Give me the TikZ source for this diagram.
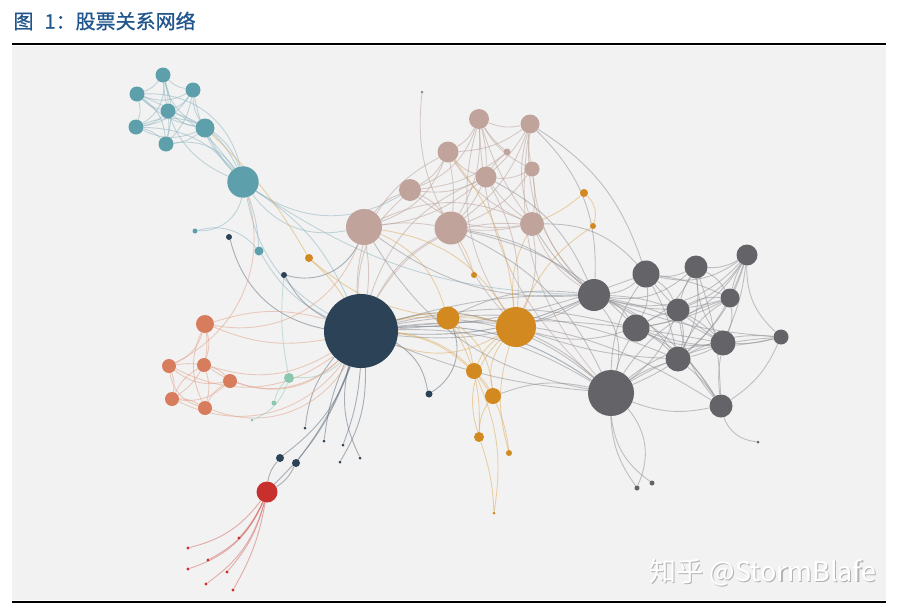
\documentclass[tikz,border=0pt]{standalone}
\usepackage{fontspec}
\newfontfamily\cjk{Noto Sans CJK SC}
\newfontfamily\cjkt[FakeBold=0.8]{Noto Sans CJK SC}
\usetikzlibrary{backgrounds}
\definecolor{nwBg}{RGB}{242,242,242}
\definecolor{nwTitle}{RGB}{32,86,140}
\definecolor{nwTeal}{RGB}{93,160,172}
\definecolor{nwDark}{RGB}{44,66,86}
\definecolor{nwMauve}{RGB}{192,163,154}
\definecolor{nwOrange}{RGB}{210,138,32}
\definecolor{nwSalmon}{RGB}{216,124,94}
\definecolor{nwMint}{RGB}{140,198,175}
\definecolor{nwRed}{RGB}{200,48,46}
\definecolor{nwGray}{RGB}{100,100,104}
\definecolor{nwTealE}{RGB}{140,180,192}
\definecolor{nwDarkE}{RGB}{90,105,122}
\definecolor{nwMauveE}{RGB}{185,160,152}
\definecolor{nwOrangeE}{RGB}{222,172,90}
\definecolor{nwSalmonE}{RGB}{226,160,136}
\definecolor{nwMintE}{RGB}{150,200,185}
\definecolor{nwRedE}{RGB}{208,100,96}
\definecolor{nwGrayE}{RGB}{140,140,146}

\begin{document}
\begin{tikzpicture}[x=1pt, y=-1pt,
  dot/.style={circle, inner sep=0pt, minimum size=2*#1},
  link/.style={line width=0.9pt, draw=#1, draw opacity=0.5}]
  \useasboundingbox (0,0) rectangle (898,611);
  \begin{scope}[on background layer]
    \fill[nwBg] (12,46) rectangle (886,600);
  \end{scope}

  % title and rules
  \node[anchor=west, font=\cjkt\fontsize{20}{20}\selectfont, text=nwTitle] (title) at (10,21) {图\hspace{0.55em}1：股票关系网络};
  \draw[line width=2.5pt] (12,44) -- (886,44);
  \draw[line width=2.5pt] (12,602) -- (886,602);

  % nodes: name/x/y/radius
  \foreach \n/\x/\y/\rad in {t1/163/75/7.5, t2/137/94/7.5, t3/193/90/7.5, t4/168/111/7.5, t5/136/127/7.5, t6/205/128/9.5, t7/166/144/7.5, t8/243/182/15.7, t9/195/231/2.5, t10/259/251/4.5}
    \node[dot=\rad, fill=nwTeal] (\n) at (\x,\y) {};
  \foreach \n/\x/\y/\rad in {h/361/331/37, d1/229/237/3, d2/284/275/3, d3/429/394/3.5, d4/280/458/4, d5/296/463/4, l1/305/428/1.5, l2/324/441/1.5, l3/343/445/1.5, l4/340/462/1.5, l5/360/458/1.5}
    \node[dot=\rad, fill=nwDark] (\n) at (\x,\y) {};
  \foreach \n/\x/\y/\rad in {m1/479/119/10, m2/530/124/9.5, m3/448/152/10.5, m4/507/152/3.5, m5/486/177/10.5, m6/532/169/7.5, m7/410/190/11, m8/451/228/16.5, m9/532/224/12, m10/364/227/18}
    \node[dot=\rad, fill=nwMauve] (\n) at (\x,\y) {};
  \node[dot=1.5, fill=nwGrayE] (q1) at (422,92) {};
  \foreach \n/\x/\y/\rad in {o1/584/193/4, o2/593/226/3, o3/474/275/3, o4/448/318/11.5, o5/516/327/20, o6/474/371/8, o7/493/396/8, o8/479/437/5, o9/509/453/3, o10/494/513/1.5, o11/309/258/4}
    \node[dot=\rad, fill=nwOrange] (\n) at (\x,\y) {};
  \foreach \n/\x/\y/\rad in {s1/205/324/9, s2/169/366/7, s3/204/365/7, s4/230/381/7, s5/172/399/7, s6/205/408/7}
    \node[dot=\rad, fill=nwSalmon] (\n) at (\x,\y) {};
  \foreach \n/\x/\y/\rad in {n1/289/378/5, n2/274/403/2.5, n3/252/420/1.5}
    \node[dot=\rad, fill=nwMint] (\n) at (\x,\y) {};
  \node[dot=10.5, fill=nwRed] (rd) at (267,492) {};
  \foreach \n/\x/\y in {e1/188/548, e2/239/538, e3/208/560, e4/188/569, e5/227/572, e6/206/584, e7/233/590}
    \node[dot=1.7, fill=nwRed] (\n) at (\x,\y) {};
  \foreach \n/\x/\y/\rad in {g1/594/295/16, g2/646/274/13.5, g3/696/267/11.5, g4/747/255/10.5, g5/730/298/9.5, g6/678/310/11.5, g7/636/328/13.5, g8/781/337/7.5, g9/723/343/12.5, g10/678/359/12.5, g11/611/393/23, g12/721/406/11.5, g13/758/442/1.5, g14/637/488/2.5, g15/652/483/2.5}
    \node[dot=\rad, fill=nwGray] (\n) at (\x,\y) {};

  % links, bend scaled by 1.6
  \begin{scope}[on background layer]
    \foreach \a/\b/\s in {t1/t2/10, t1/t3/-10, t1/t4/5, t1/t6/-15, t1/t7/10, t1/t5/20, t2/t4/-10, t2/t5/10, t2/t3/-15, t2/t6/-10, t2/t7/15, t3/t4/10, t3/t6/-10, t3/t5/15, t3/t7/10, t4/t5/10, t4/t6/-10, t4/t7/5, t5/t7/10, t5/t6/-15, t6/t7/10, t1/t8/-20, t2/t8/25, t3/t8/-10, t4/t8/15, t5/t8/30, t6/t8/-5, t7/t8/20, t2/t8/10, t5/t8/15, t8/h/-15, t8/h/10, t8/m10/-20, t8/t9/25, t8/t10/5, t8/m7/-20, t9/t10/20, t8/g1/-10, t10/h/-10}
      {\pgfmathsetmacro\bb{1.6*\s}
       \draw[link=nwTealE] (\a) to[bend left=\bb] (\b);}
    \foreach \a/\b/\s in {d1/h/-20, d2/h/-10, d2/m10/-25, h/l1/-10, h/l2/-5, h/l3/5, h/l4/10, h/l5/-12, h/d4/10, h/d5/5, h/rd/8, d4/rd/-10, d5/rd/10, h/d3/15, d3/o4/-25, h/g11/12, h/g1/-8, h/o5/10}
      {\pgfmathsetmacro\bb{1.6*\s}
       \draw[link=nwDarkE] (\a) to[bend left=\bb] (\b);}
    \foreach \a/\b/\s in {s1/s2/15, s1/s3/10, s1/s5/20, s1/s6/-15, s2/s3/5, s2/s5/10, s2/s6/-20, s3/s4/10, s3/s5/-10, s3/s6/10, s4/s6/-10, s5/s6/10, s2/s4/-15, s4/s5/15, s1/h/-10, s2/h/-20, s3/h/-15, s4/h/-20, s5/h/-25, s6/h/-25, s1/h/10, s3/h/-25, s2/t8/-25, s1/m10/-25}
      {\pgfmathsetmacro\bb{1.6*\s}
       \draw[link=nwSalmonE] (\a) to[bend left=\bb] (\b);}
    \foreach \a/\b/\s in {n1/h/-15, n2/n1/10, n3/n1/-15, n1/d2/5}
      {\pgfmathsetmacro\bb{1.6*\s}
       \draw[link=nwMintE] (\a) to[bend left=\bb] (\b);}
    \foreach \a/\b/\s in {rd/e1/12, rd/e2/5, rd/e3/12, rd/e4/15, rd/e5/8, rd/e6/12, rd/e7/6}
      {\pgfmathsetmacro\bb{1.6*\s}
       \draw[link=nwRedE] (\a) to[bend left=\bb] (\b);}
    \foreach \a/\b/\s in {m1/m2/-10, m1/m3/10, m1/m5/5, m1/m6/-10, m1/m8/10, m1/m9/-5, m1/m7/15, m2/m3/10, m2/m5/5, m2/m6/-5, m2/m9/-10, m2/m8/10, m3/m5/-10, m3/m7/10, m3/m8/5, m3/m9/-10, m3/m10/15, m5/m6/-10, m5/m7/10, m5/m8/5, m5/m9/-5, m5/m10/10, m6/m9/5, m6/m8/10, m7/m8/10, m7/m10/-10, m7/m9/-15, m8/m9/-5, m8/m10/-5, m9/m10/-15, m4/m1/5, m4/m7/10, m4/m5/-5, q1/m8/-10, m10/h/5, m8/h/-10, m7/h/-15, m3/h/-20, m9/h/-20, m5/h/-15, m9/o5/10, m8/o5/-5, m5/o5/10, m1/o5/-15, m2/g1/-15, m6/g1/-12, m9/g1/-10, m2/g11/-15, m1/g11/-14}
      {\pgfmathsetmacro\bb{1.6*\s}
       \draw[link=nwMauveE] (\a) to[bend left=\bb] (\b);}
    \foreach \a/\b/\s in {o1/m9/5, o1/o2/20, o2/o5/-10, o3/m8/-5, o4/h/-5, o4/o5/5, o4/o6/10, o4/o7/15, o4/o8/10, o5/o6/-10, o5/o7/-15, o5/o8/-20, o5/o9/-10, o6/o7/5, o6/o10/10, o7/o8/-10, o7/o9/5, o8/o10/5, o5/h/15, o5/h/-10, o5/m10/-15, o4/m10/-15, o11/t6/-5, o11/h/5, o11/o4/-10, o5/m9/10, o5/m3/-10, o6/h/-10, o7/h/-15}
      {\pgfmathsetmacro\bb{1.6*\s}
       \draw[link=nwOrangeE] (\a) to[bend left=\bb] (\b);}
    \foreach \a/\b/\s in {g1/g2/-10, g1/g3/-15, g1/g4/-20, g1/g5/-10, g1/g6/5, g1/g7/10, g1/g8/-5, g1/g9/5, g1/g10/10, g1/g11/15, g1/g12/10, g2/g3/-10, g2/g4/-15, g2/g5/5, g2/g6/10, g2/g7/10, g2/g9/-5, g2/g10/5, g2/g11/-10, g3/g4/-10, g3/g5/10, g3/g6/-5, g3/g7/10, g3/g9/-10, g3/g10/10, g3/g12/5, g4/g5/-5, g4/g6/10, g4/g7/15, g4/g8/-15, g4/g9/5, g4/g10/10, g4/g11/15, g5/g6/-10, g5/g7/5, g5/g9/10, g5/g10/-10, g5/g11/-12, g6/g7/-5, g6/g9/5, g6/g10/10, g6/g11/10, g6/g12/-10, g7/g9/-10, g7/g10/5, g7/g11/-5, g7/g12/10, g7/g8/-10, g8/g9/5, g8/g10/-10, g8/g11/-8, g8/g12/10, g9/g10/5, g9/g11/-10, g9/g12/-5, g10/g11/-5, g10/g12/5, g11/g12/-10, g12/g13/-20, g11/g14/-10, g11/g15/-15, g11/g14/20, g1/h/10, g1/h/-5, g11/h/-10, g11/h/5, g7/h/-8, g10/h/-10, g9/h/-5, g2/h/5, g12/h/-12, g1/m9/5, g1/m8/-10, g1/m10/12, g1/m5/-12, g11/m10/15, g11/m8/-12, g7/m8/-10, g2/m9/-15, g2/m2/-12, g1/m2/-15, g1/o5/5, g11/o5/-5, g7/o5/10, g11/o4/-10, g10/o5/5, g1/o4/-10, g11/o7/-10}
      {\pgfmathsetmacro\bb{1.6*\s}
       \draw[link=nwGrayE] (\a) to[bend left=\bb] (\b);}
  \end{scope}

  % watermark
  \node[font=\cjk\fontsize{27}{27}\selectfont, text=black!30] (markshade) at (764.2,573.2) {知乎 @StormBlafe};
  \node[font=\cjk\fontsize{27}{27}\selectfont, text=white] (mark) at (763,572) {知乎 @StormBlafe};
\end{tikzpicture}
\end{document}
